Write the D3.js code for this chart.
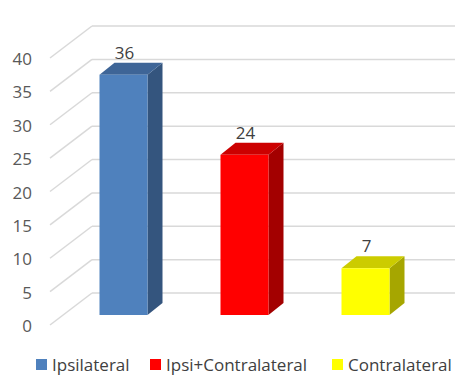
<!DOCTYPE html>
<html><head><meta charset="utf-8">
<script src="https://cdn.jsdelivr.net/npm/d3@7"></script>
<style>body{margin:0;background:#fff}svg{display:block}</style>
</head><body>
<script>
const categories = ["Ipsilateral", "Ipsi+Contralateral", "Contralateral"];
const values = [36, 24, 7];
const yTicks = [0, 5, 10, 15, 20, 25, 30, 35, 40];
const frontColors = ["#4f81bd", "#ff0000", "#ffff00"];
const topColors = ["#3e6597", "#cc0000", "#cccc00"];
const sideColors = ["#34557e", "#a30000", "#a6a600"];

const W = 474, H = 383;
const svg = d3.select("body").append("svg").attr("width", W).attr("height", H);
const font = "'Open Sans', Lato, sans-serif";

const y = d3.scaleLinear().domain([0, 40]).range([315, 48]);
const x = d3.scaleBand().domain(categories).range([63, 426]);
const barW = 48;
const dX = 15, dY = -12;        // bar depth
const backDX = 29, backDY = -22; // bar front -> back wall
const frontDX = -13, frontDY = 10; // bar front -> axis front

// gridlines
const g = svg.append("g").attr("stroke", "#d9d9d9").attr("stroke-width", 1.5).attr("fill", "none");
yTicks.forEach(t => {
  const yb = y(t);
  g.append("line").attr("x1", 63 + backDX).attr("x2", 455).attr("y1", yb + backDY).attr("y2", yb + backDY);
  g.append("line").attr("x1", 63 + frontDX).attr("y1", yb + frontDY).attr("x2", 63 + backDX).attr("y2", yb + backDY);
});

// tick labels
svg.append("g").selectAll("text").data(yTicks).join("text")
  .attr("x", 32).attr("y", d => y(d) + frontDY + 7)
  .attr("text-anchor", "end").attr("font-family", font).attr("font-size", 17)
  .attr("fill", "#595959").text(d => d);

// bars
const bars = svg.append("g");
categories.forEach((c, i) => {
  const cx = x(c) + x.bandwidth() / 2;
  const x0 = cx - barW / 2, x1 = cx + barW / 2;
  const yt = y(values[i]), yb = y(0);
  bars.append("polygon").attr("points", [[x1, yt], [x1 + dX, yt + dY], [x1 + dX, yb + dY], [x1, yb]].join(" ")).attr("fill", sideColors[i]);
  bars.append("polygon").attr("points", [[x0, yt], [x0 + dX, yt + dY], [x1 + dX, yt + dY], [x1, yt]].join(" ")).attr("fill", topColors[i]);
  bars.append("rect").attr("x", x0).attr("y", yt).attr("width", barW).attr("height", yb - yt).attr("fill", frontColors[i]);
  bars.append("text").attr("x", cx + 1).attr("y", yt - 16).attr("text-anchor", "middle")
    .attr("font-family", font).attr("font-size", 17).attr("fill", "#404040").text(values[i]);
});

// legend
const legendX = [36, 150, 332];
const lg = svg.append("g");
categories.forEach((c, i) => {
  lg.append("rect").attr("x", legendX[i]).attr("y", 359).attr("width", 11).attr("height", 11).attr("fill", frontColors[i]);
  lg.append("text").attr("x", legendX[i] + 16).attr("y", 370.5).attr("font-family", font).attr("font-size", 17)
    .attr("fill", "#404040").text(c);
});
</script>
</body></html>
